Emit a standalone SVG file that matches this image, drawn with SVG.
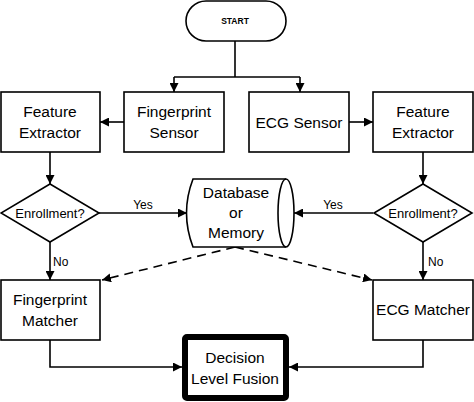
<svg xmlns="http://www.w3.org/2000/svg" width="474" height="402" viewBox="0 0 474 402">
<defs>
<style>
.box{fill:#fff;stroke:#000;stroke-width:1.6}
.ln{fill:none;stroke:#000;stroke-width:1.6}
.dash{fill:none;stroke:#000;stroke-width:1.6;stroke-dasharray:9,6}
text{font-family:"Liberation Sans",Arial,sans-serif;fill:#000;text-anchor:middle}
.t{font-size:15.5px}
.s{font-size:13px}
.l{font-size:12px}
</style>
<marker id="ah" viewBox="0 0 10 10" refX="10" refY="5" markerWidth="9" markerHeight="9" markerUnits="userSpaceOnUse" orient="auto">
<path d="M0,0L10,5L0,10z" fill="#000"/>
</marker>
</defs>
<rect width="474" height="402" fill="#fff"/>
<g id="connectors">
<path class="ln" d="M235,41V77"/>
<path class="ln" d="M174,77H300"/>
<path class="ln" d="M174,77V92" marker-end="url(#ah)"/>
<path class="ln" d="M300,77V92" marker-end="url(#ah)"/>
<path class="ln" d="M124,122H100" marker-end="url(#ah)"/>
<path class="ln" d="M349,122H373" marker-end="url(#ah)"/>
<path class="ln" d="M50,152V184" marker-end="url(#ah)"/>
<path class="ln" d="M423,152V184" marker-end="url(#ah)"/>
<path class="ln" d="M99,213H187" marker-end="url(#ah)"/>
<path class="ln" d="M373,213H294" marker-end="url(#ah)"/>
<path class="ln" d="M50,242V280" marker-end="url(#ah)"/>
<path class="ln" d="M423,242V280" marker-end="url(#ah)"/>
<path class="dash" d="M235,247L102,280" marker-end="url(#ah)"/>
<path class="dash" d="M235,247L372,280" marker-end="url(#ah)"/>
<path class="ln" d="M50,340V367H182" marker-end="url(#ah)"/>
<path class="ln" d="M423,340V367H289" marker-end="url(#ah)"/>
<text class="l" x="143" y="209">Yes</text>
<text class="l" x="333" y="209">Yes</text>
<text class="l" x="53" y="266" text-anchor="start" style="text-anchor:start">No</text>
<text class="l" x="428" y="266" style="text-anchor:start">No</text>
</g>
<g id="start">
<rect class="box" x="186" y="1" width="100" height="40" rx="20"/>
<text x="235" y="24" style="font-size:8.5px;font-weight:bold">START</text>
</g>
<g id="fingerprint-sensor">
<rect class="box" x="124" y="92" width="100" height="60"/>
<text class="t" x="174" y="117">Fingerprint</text>
<text class="t" x="174" y="138">Sensor</text>
</g>
<g id="ecg-sensor">
<rect class="box" x="249" y="92" width="100" height="60"/>
<text class="t" x="299" y="128">ECG Sensor</text>
</g>
<g id="feature-extractor-left">
<rect class="box" x="1" y="92" width="99" height="60"/>
<text class="t" x="50" y="117">Feature</text>
<text class="t" x="50" y="138">Extractor</text>
</g>
<g id="feature-extractor-right">
<rect class="box" x="373" y="92" width="100" height="60"/>
<text class="t" x="423" y="117">Feature</text>
<text class="t" x="423" y="138">Extractor</text>
</g>
<g id="enrollment-left">
<path class="box" d="M50,184L99,213L50,242L1,213z"/>
<text class="s" x="50" y="218">Enrollment?</text>
</g>
<g id="enrollment-right">
<path class="box" d="M423,184L472,213L423,242L374,213z"/>
<text class="s" x="423" y="218">Enrollment?</text>
</g>
<g id="database">
<path class="box" d="M193,179H286A8,34 0 0 1 286,247H193Q180,213 193,179z"/>
<path class="ln" d="M286,179A8,34 0 0 0 286,247"/>
<text class="t" x="236" y="198">Database</text>
<text class="t" x="236" y="218">or</text>
<text class="t" x="236" y="238">Memory</text>
</g>
<g id="fingerprint-matcher">
<rect class="box" x="1" y="280" width="99" height="60"/>
<text class="t" x="50" y="305">Fingerprint</text>
<text class="t" x="50" y="326">Matcher</text>
</g>
<g id="ecg-matcher">
<rect class="box" x="373" y="280" width="100" height="60"/>
<text class="t" x="423" y="315">ECG Matcher</text>
</g>
<g id="decision-fusion">
<rect x="185" y="337" width="101" height="61" rx="2" fill="#fff" stroke="#000" stroke-width="6"/>
<text class="t" x="235" y="363">Decision</text>
<text class="t" x="235" y="384">Level Fusion</text>
</g>
</svg>
